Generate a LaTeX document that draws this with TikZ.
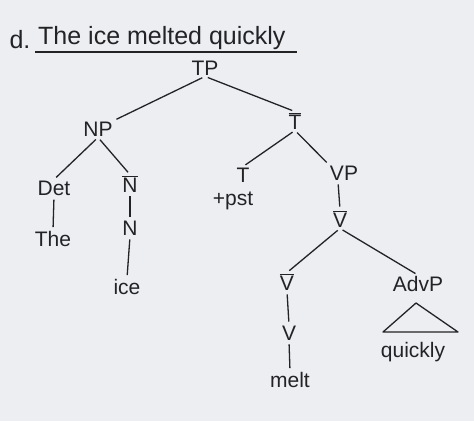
\documentclass[tikz,border=0pt]{standalone}
\usepackage{fontspec}
\setmainfont{Liberation Sans}
\definecolor{paper}{RGB}{236,238,241}
\definecolor{ink}{RGB}{35,35,38}
\newcommand{\barlbl}[1]{$\overline{\mbox{#1}}$}
\begin{document}
\begin{tikzpicture}[x=1pt,y=-1pt,
  lbl/.style={inner sep=1pt,text=ink,font=\fontsize{21}{23}\selectfont},
  edge/.style={draw=ink,line width=1.3pt,shorten <=3pt,shorten >=3pt}]
\fill[paper] (0,0) rectangle (474,421);
\useasboundingbox (0,0) rectangle (474,421);
% title
\node[lbl,font=\fontsize{25}{27}\selectfont] (d) at (20,40) {d.};
\node[lbl,font=\fontsize{25}{27}\selectfont,anchor=west] (title) at (37,38) {The ice melted quickly};
\draw[ink,line width=1.3pt] ([xshift=-2pt,yshift=-1pt]title.south west) -- ([xshift=10pt,yshift=-1pt]title.south east);
% nodes
\node[lbl] (TP) at (205,68) {TP};
\node[lbl] (NP) at (98,129) {NP};
\node[lbl] (Tb) at (295,121) {\barlbl{T}};
\node[lbl] (Det) at (54,188) {Det};
\node[lbl] (Nb) at (130,184) {\barlbl{N}};
\node[lbl] (The) at (53,239) {The};
\node[lbl] (N) at (130,228) {N};
\node[lbl] (ice) at (127,287) {ice};
\node[lbl] (T) at (243,175) {T};
\node[lbl] (past) at (233,201) {+pst};
\node[lbl] (VP) at (344,173) {VP};
\node[lbl] (Vb) at (340,219) {\barlbl{V}};
\node[lbl] (Vb2) at (287,282) {\barlbl{V}};
\node[lbl] (AdvP) at (418,284) {AdvP};
\node[lbl] (V) at (289,333) {V};
\node[lbl] (melt) at (290,380) {melt};
\node[lbl] (quickly) at (413,352) {quickly};
\coordinate (apex) at (416,303);
\coordinate (bl) at (383,332);
\coordinate (br) at (458,332);
% edges
\draw[edge] (TP.south) -- (NP.north east);
\draw[edge] (TP.south) -- (Tb.north);
\draw[edge] (NP.south) -- (Det.north);
\draw[edge] (NP.south) -- (Nb.north);
\draw[edge] (Det.south) -- (The.north);
\draw[edge] (Nb.south) -- (N.north);
\draw[edge] (N.south) -- (ice.north);
\draw[edge] (Tb.south) -- (T.north);
\draw[edge] (Tb.south) -- (VP.north west);
\draw[edge] ([xshift=-6pt]VP.south) -- (Vb.north);
\draw[edge] (Vb.south) -- (Vb2.north);
\draw[edge] (Vb.south) -- (AdvP.north);
\draw[edge] (Vb2.south) -- (V.north);
\draw[edge] (V.south) -- (melt.north);
\draw[ink,line width=1.3pt,line join=round] (bl) -- (apex) -- (br) -- cycle;
\end{tikzpicture}
\end{document}
